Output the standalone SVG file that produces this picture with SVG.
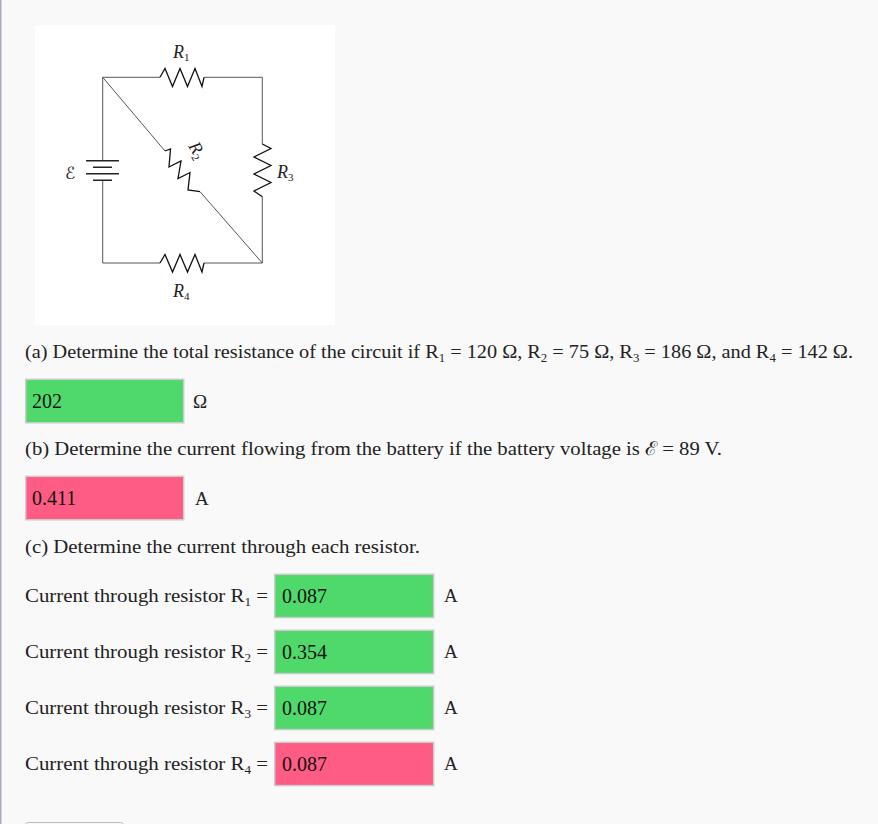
<svg xmlns="http://www.w3.org/2000/svg" width="878" height="824" viewBox="0 0 878 824">
<style>
.w{fill:none;stroke:#555;stroke-width:1}
.z{fill:none;stroke:#111;stroke-width:1.3}
.lab{font-family:"Liberation Serif",serif;font-style:italic;font-size:18px;fill:#222}
.t{font-family:"Liberation Serif",serif;font-size:19px;fill:#222}
.v{font-family:"Liberation Serif",serif;font-size:20px;fill:#111}
.g{fill:#4fd96b;stroke:#ccc;stroke-width:1.5}
.p{fill:#ff5c85;stroke:#ccc;stroke-width:1.5}
</style>
<rect width="878" height="824" fill="#f9f9f9"/>
<rect x="0" y="0" width="1.5" height="824" fill="#aab"/>
<rect x="35" y="25" width="300" height="300" fill="#fff"/>
<g id="circuit">
<g id="wires">
<path class="w" d="M102.7,160 V77.3 H160 M204,77.3 H262.3 V144 M262.3,196.7 V263 H204 M160,263 H102.7 V180.3"/>
<path class="w" d="M102.7,77.3 L165,151 M200,191.7 L262.3,263"/>
</g>
<g id="R1"><polyline class="z" points="160,77.3 165,68.5 172.5,86.5 180,68.5 187.5,86.5 195,68.5 202,86.5 204,77.3"/><text class="lab" x="173" y="58">R<tspan font-size="11" dy="3" font-style="normal">1</tspan></text></g>
<g id="R3"><polyline class="z" points="262.3,144 271,148.5 254,157 271,165.5 254,174 271,182.5 254,191 262.3,196.7"/><text class="lab" x="277" y="178">R<tspan font-size="11" dy="3" font-style="normal">3</tspan></text></g>
<g id="R4"><polyline class="z" points="160,263 165,254.5 172.5,272 180,254.5 187.5,272 195,254.5 202,272 204,263"/><text class="lab" x="173" y="297">R<tspan font-size="11" dy="3" font-style="normal">4</tspan></text></g>
<g id="R2"><polyline class="z" points="165,151 170.5,149 169,167 181,161 178,178.5 190,172.5 188,190 200,191.7"/><text class="lab" transform="translate(188,146) rotate(60)">R<tspan font-size="11" dy="3" font-style="normal">2</tspan></text></g>
<g id="battery">
<path d="M86,160.7 H119 M93,167.3 H112 M86,173.7 H119 M93,180.3 H112" stroke="#222" stroke-width="1.5"/>
<text x="65" y="179" font-family="DejaVu Sans,sans-serif" font-size="17" fill="#222">ℰ</text>
</g>
</g>
<g id="qa">
<text class="t" x="25" y="358" textLength="828" lengthAdjust="spacingAndGlyphs">(a) Determine the total resistance of the circuit if R<tspan font-size="12" dy="4">1</tspan><tspan dy="-4"> = 120 Ω, R</tspan><tspan font-size="12" dy="4">2</tspan><tspan dy="-4"> = 75 Ω, R</tspan><tspan font-size="12" dy="4">3</tspan><tspan dy="-4"> = 186 Ω, and R</tspan><tspan font-size="12" dy="4">4</tspan><tspan dy="-4"> = 142 Ω.</tspan></text>
<rect class="g" x="25.7" y="379.3" width="158" height="43.5"/>
<text class="v" x="32" y="408">202</text>
<text class="t" x="193" y="408">Ω</text>
</g>
<g id="qb">
<text class="t" x="25" y="455" textLength="697" lengthAdjust="spacingAndGlyphs">(b) Determine the current flowing from the battery if the battery voltage is ℰ = 89 V.</text>
<rect class="p" x="25.7" y="476.3" width="158" height="43.5"/>
<text class="v" x="32" y="505">0.411</text>
<text class="t" x="195" y="505">A</text>
</g>
<g id="qc">
<text class="t" x="25" y="553" textLength="395" lengthAdjust="spacingAndGlyphs">(c) Determine the current through each resistor.</text>
<text class="t" x="25" y="602" textLength="243" lengthAdjust="spacingAndGlyphs">Current through resistor R<tspan font-size="12" dy="4">1</tspan><tspan dy="-4"> =</tspan></text>
<rect class="g" x="274.7" y="574.3" width="159" height="43.3"/><text class="v" x="282" y="603">0.087</text><text class="t" x="444" y="602">A</text>
<text class="t" x="25" y="658" textLength="243" lengthAdjust="spacingAndGlyphs">Current through resistor R<tspan font-size="12" dy="4">2</tspan><tspan dy="-4"> =</tspan></text>
<rect class="g" x="274.7" y="630.3" width="159" height="43.3"/><text class="v" x="282" y="659">0.354</text><text class="t" x="444" y="658">A</text>
<text class="t" x="25" y="714" textLength="243" lengthAdjust="spacingAndGlyphs">Current through resistor R<tspan font-size="12" dy="4">3</tspan><tspan dy="-4"> =</tspan></text>
<rect class="g" x="274.7" y="686.3" width="159" height="43.3"/><text class="v" x="282" y="715">0.087</text><text class="t" x="444" y="714">A</text>
<text class="t" x="25" y="770" textLength="243" lengthAdjust="spacingAndGlyphs">Current through resistor R<tspan font-size="12" dy="4">4</tspan><tspan dy="-4"> =</tspan></text>
<rect class="p" x="274.7" y="742.3" width="159" height="43.3"/><text class="v" x="282" y="771">0.087</text><text class="t" x="444" y="770">A</text>
</g>
<rect x="25.5" y="822.5" width="98" height="10" rx="3" fill="none" stroke="#bbb"/>
</svg>
